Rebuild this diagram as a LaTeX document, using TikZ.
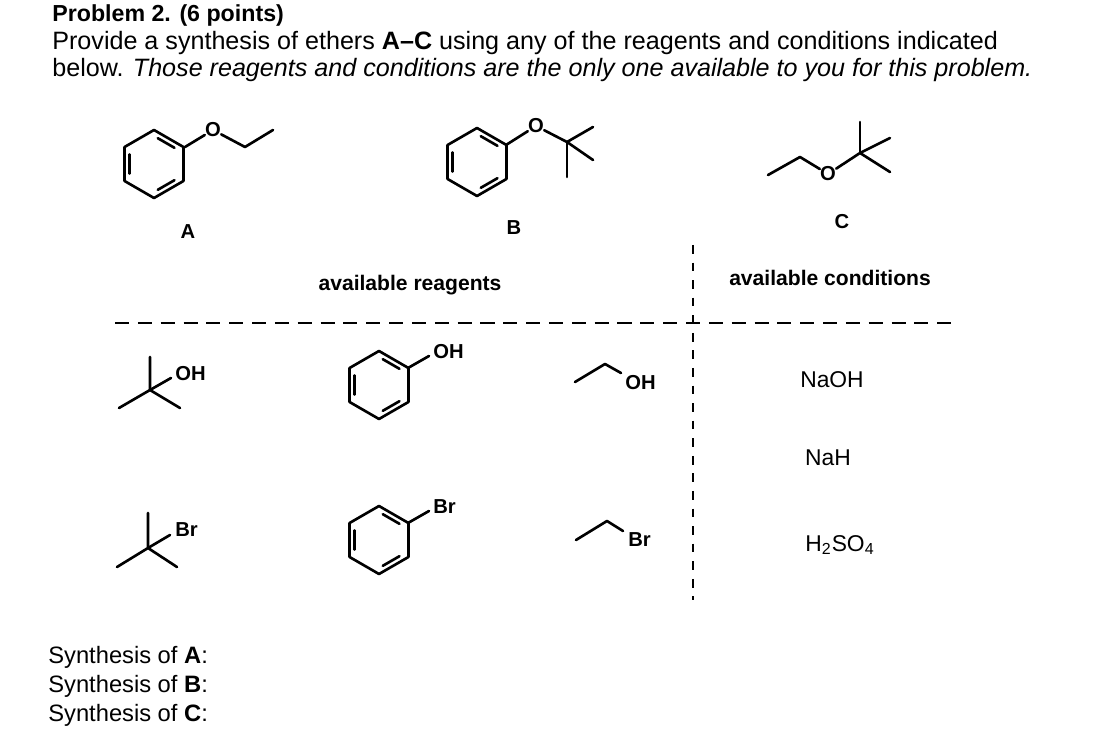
\documentclass[tikz,border=0pt]{standalone}
\usepackage{fontspec}
\setmainfont{Liberation Sans}
\begin{document}
\begin{tikzpicture}[x=0.02cm,y=-0.02cm,
  bond/.style={line width=1.5pt,line cap=round,line join=round},
  lbl/.style={font=\bfseries\fontsize{11.5}{13}\selectfont,inner sep=0pt},
  head/.style={font=\bfseries\fontsize{12}{14}\selectfont,inner sep=0pt},
  cond/.style={font=\fontsize{13}{15}\selectfont,inner sep=0pt},
  body/.style={font=\fontsize{14.3}{16}\selectfont,inner sep=0pt,anchor=base west},
  syn/.style={font=\fontsize{13.5}{15}\selectfont,inner sep=0pt,anchor=base west},
  pics/benz/.style={code={
    \draw[bond] (90:34) -- (30:34) -- (-30:34) -- (-90:34) -- (-150:34) -- (150:34) -- cycle;
    \draw[bond,shorten <=2.5pt,shorten >=2.5pt] (90:28) -- (30:28);
    \draw[bond,shorten <=2.5pt,shorten >=2.5pt] (-30:28) -- (-90:28);
    \draw[bond,shorten <=2.5pt,shorten >=2.5pt] (-150:28) -- (150:28);
  }}]
\useasboundingbox (0,0) rectangle (1094,746);
% header text
\node[body,font=\bfseries\fontsize{13.2}{15}\selectfont] (t0) at (52,22) {Problem 2. (6 points)};
\node[body] (t1) at (52,50) {Provide a synthesis of ethers \textbf{A–C} using any of the reagents and conditions indicated};
\node[body] (t2) at (52,77) {below. \textit{Those reagents and conditions are the only one available to you for this problem.}};
% A
\pic at (154,164) {benz};
\node[lbl] (oA) at (213,130) {O};
\draw[bond] (185,147) -- (oA);
\draw[bond] (oA) -- (245,147) -- (273,130);
\node[lbl] (A) at (188,232) {A};
% B
\pic at (477,162) {benz};
\node[lbl] (oB) at (536,126) {O};
\draw[bond] (506,145) -- (oB);
\draw[bond] (oB) -- (567,142);
\draw[bond] (567,142) -- (593,127);
\draw[bond] (567,142) -- (593,160);
\draw[bond] (567,142) -- (567,177);
\node[lbl] (B) at (514,228) {B};
% C
\node[lbl] (oC) at (828,174) {O};
\draw[bond] (768,175) -- (800,157) -- (oC);
\draw[bond] (oC) -- (860,153);
\draw[bond] (860,153) -- (860,122);
\draw[bond] (860,153) -- (890,138);
\draw[bond] (860,153) -- (890,172);
\node[lbl] (C) at (842,222) {C};
% table
\node[head] (hr) at (410,285) {available reagents};
\node[head] (hc) at (830,278) {available conditions};
\draw[line width=1.2pt,dash pattern=on 8 off 5] (115,323) -- (955,323);
\draw[line width=1.2pt,dash pattern=on 5 off 5] (693,245) -- (693,600);
% tBuOH
\node[lbl,anchor=west] (oh1) at (175,374) {OH};
\draw[bond] (150,357) -- (150,390) -- (119,408);
\draw[bond] (150,390) -- (180,408);
\draw[bond] (150,390) -- (171,378);
% phenol
\pic at (379,385) {benz};
\node[lbl,anchor=west] (oh2) at (433,352) {OH};
\draw[bond] (408,368) -- (429,356);
% EtOH
\node[lbl,anchor=west] (oh3) at (625,383) {OH};
\draw[bond] (575,382) -- (605,364) -- (621,373);
% tBuBr
\node[lbl,anchor=west] (br1) at (175,530) {Br};
\draw[bond] (148,513) -- (148,548) -- (117,567);
\draw[bond] (148,548) -- (177,567);
\draw[bond] (148,548) -- (170,535);
% bromobenzene
\pic at (379,540) {benz};
\node[lbl,anchor=west] (br2) at (433,507) {Br};
\draw[bond] (408,523) -- (429,511);
% EtBr
\node[lbl,anchor=west] (br3) at (628,540) {Br};
\draw[bond] (576,540) -- (607,521) -- (623,531);
% conditions
\node[cond] (c1) at (832,380) {NaOH};
\node[cond] (c2) at (828,458) {NaH};
\node[cond] (c3) at (840,545) {H\textsubscript{2}SO\textsubscript{4}};
% synthesis
\node[syn] (s1) at (48,663) {Synthesis of \textbf{A}:};
\node[syn] (s2) at (48,692) {Synthesis of \textbf{B}:};
\node[syn] (s3) at (48,721) {Synthesis of \textbf{C}:};
\end{tikzpicture}
\end{document}
